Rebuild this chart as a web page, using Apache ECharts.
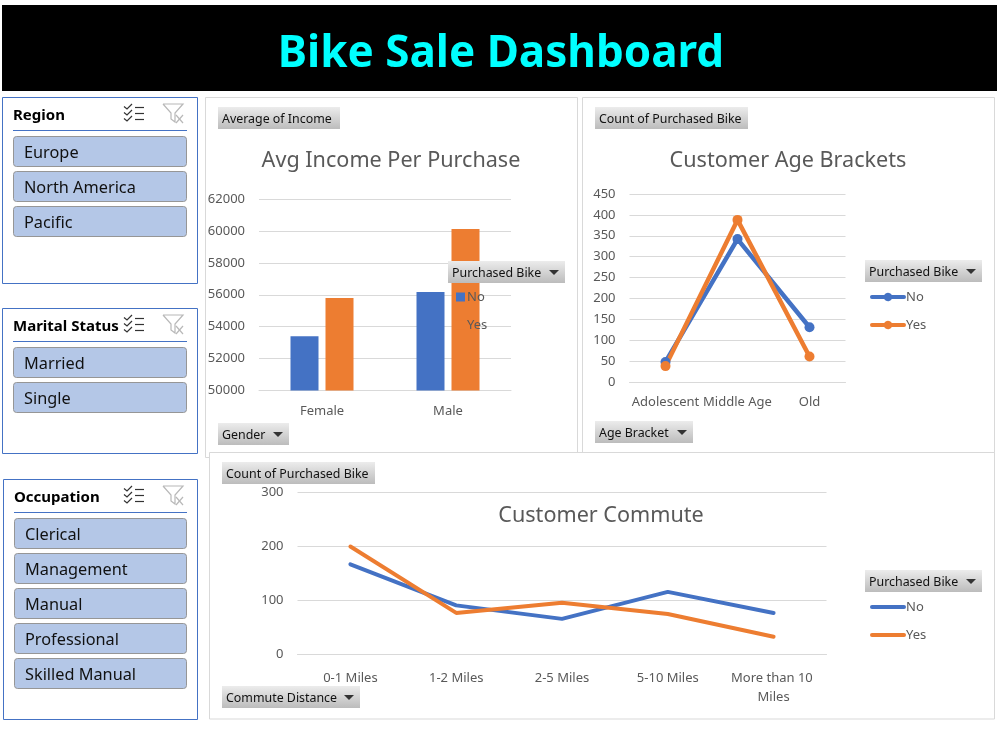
<!DOCTYPE html>
<html><head><meta charset="utf-8">
<style>html,body{margin:0;padding:0;background:#fff}#c{width:1005px;height:731px}</style>
<script src="https://cdn.jsdelivr.net/npm/echarts@6/dist/echarts.min.js"></script>
</head><body><div id="c"></div>
<script>
const genderCategories = ['Female', 'Male'];
const incomeNo = [53400, 56170];
const incomeYes = [55790, 60120];
const ageCategories = ['Adolescent', 'Middle Age', 'Old'];
const ageNo = [48, 342, 131];
const ageYes = [38, 388, 61];
const commuteCategories = ['0-1 Miles', '1-2 Miles', '2-5 Miles', '5-10 Miles', 'More than 10 Miles'];
const commuteNo = [167, 91, 66, 116, 77];
const commuteYes = [200, 77, 96, 75, 33];
const regionItems = ['Europe', 'North America', 'Pacific'];
const maritalItems = ['Married', 'Single'];
const occupationItems = ['Clerical', 'Management', 'Manual', 'Professional', 'Skilled Manual'];

const BLUE = '#4472c4', ORANGE = '#ed7d31', GRID = '#d9d9d9', TXT = '#595959';
const FONT = '"Noto Sans", sans-serif';
const els = [];

function rect(x, y, w, h, fill, stroke, r, z) {
  els.push({type: 'rect', z: z === undefined ? 0 : z, silent: true,
    shape: {x, y, width: w, height: h, r: r || 0},
    style: {fill: fill || 'transparent', stroke: stroke || null, lineWidth: 1}});
}
function txt(x, y, s, size, weight, color, z, family) {
  els.push({type: 'text', z: z || 1, silent: true, x, y,
    style: {text: s, fontSize: size, fontWeight: weight || 'normal', fill: color,
      fontFamily: family || FONT, verticalAlign: 'middle', align: 'left'}});
}
function pline(points, color, w, z) {
  els.push({type: 'polyline', z: z || 1, silent: true, shape: {points},
    style: {stroke: color, lineWidth: w || 1, fill: null}});
}
const btnFill = {type: 'linear', x: 0, y: 0, x2: 0, y2: 1,
  colorStops: [{offset: 0, color: '#ececec'}, {offset: 1, color: '#bcbcbc'}]};
function fieldBtn(x, y, w, label, arrow) {
  rect(x, y, w, 22, btnFill, null, 0, 50);
  els.push({type: 'text', z: 51, silent: true, x: x + 4, y: y + 12.5,
    style: {text: label, fontSize: 12.4, fill: '#111', fontFamily: FONT, verticalAlign: 'middle', align: 'left'}});
  if (arrow) {
    const ax = x + w - 11, ay = y + 9;
    els.push({type: 'polygon', z: 51, silent: true,
      shape: {points: [[ax - 5, ay], [ax + 5, ay], [ax, ay + 5]]}, style: {fill: '#333'}});
  }
}
function slicer(x, y, w, h, title, items, btnTop) {
  rect(x + .5, y + .5, w, h, '#fff', BLUE, 0, 1);
  txt(x + 11, y + 19, title, 15, 'bold', '#000', 2);
  const bx = x + 11, bw = w - 21;
  pline([[bx, btnTop - 5.5], [bx + bw, btnTop - 5.5]], BLUE, 1, 2);
  const ix = 124, iy = y + 8;
  [0, 6, 12].forEach(d => {
    pline([[ix, iy + d + 1.5], [ix + 3, iy + d + 4], [ix + 8, iy + d - 1]], '#333', 1.2, 2);
    pline([[ix + 11, iy + d + 2.5], [ix + 20, iy + d + 2.5]], '#333', 1.2, 2);
  });
  const fx = 163, fy = y + 7;
  pline([[fx, fy], [fx + 20, fy], [fx + 12, fy + 9], [fx + 12, fy + 18], [fx + 8, fy + 15], [fx + 8, fy + 9], [fx, fy]], '#b8b8b8', 1.2, 2);
  pline([[fx + 13, fy + 11], [fx + 20, fy + 19]], '#b8b8b8', 1.2, 2);
  pline([[fx + 20, fy + 11], [fx + 13, fy + 19]], '#b8b8b8', 1.2, 2);
  items.forEach((it, i) => {
    const by = btnTop + i * 35;
    rect(bx + .5, by + .5, bw - 1, 30, '#b4c7e7', '#969696', 3, 2);
    txt(bx + 11, by + 17, it, 16.3, 'normal', '#111', 3);
  });
}

rect(2, 5, 995, 86, '#000', null, 0, -3);
rect(205.5, 97.5, 372, 360, '#fff', GRID, 0, -3);
rect(582.5, 97.5, 412, 355.5, '#fff', GRID, 0, -3);
rect(209.5, 452.5, 785, 266.5, '#fff', GRID, 0, -2);
slicer(2, 97, 195, 186, 'Region', regionItems, 136);
slicer(2, 308, 195, 145, 'Marital Status', maritalItems, 347);
slicer(3, 479, 194, 240, 'Occupation', occupationItems, 518);
fieldBtn(218, 107, 122, 'Average of Income');
fieldBtn(218, 423, 71, 'Gender', true);
fieldBtn(448, 261, 117, 'Purchased Bike', true);
fieldBtn(595, 107, 153, 'Count of Purchased Bike');
fieldBtn(595, 421, 98, 'Age Bracket', true);
fieldBtn(865, 260, 117, 'Purchased Bike', true);
fieldBtn(222, 462, 153, 'Count of Purchased Bike');
fieldBtn(222, 686, 138, 'Commute Distance', true);
fieldBtn(865, 570, 117, 'Purchased Bike', true);

function chartTitle(s, cx, y) {
  return {text: s, left: cx, top: y, textAlign: 'center', padding: 0,
    textStyle: {fontSize: 21.6, fontWeight: 'normal', color: TXT, fontFamily: FONT}};
}
function xAxisOf(i, cats, extra) {
  return {gridIndex: i, type: 'category', data: cats,
    axisTick: {show: false}, axisLine: {lineStyle: {color: GRID}},
    axisLabel: Object.assign({color: TXT, fontSize: 13, fontFamily: FONT, margin: 14, interval: 0}, extra || {})};
}
function yAxisOf(i, min, max, interval) {
  return {gridIndex: i, type: 'value', min, max, interval,
    axisLine: {show: false}, axisTick: {show: false},
    splitLine: {lineStyle: {color: GRID, width: 1}},
    axisLabel: {color: TXT, fontSize: 13, fontFamily: FONT, margin: 14, formatter: v => String(v)}};
}
function lineSeries(name, data, color, idx, marked) {
  return {type: 'line', name, data, xAxisIndex: idx, yAxisIndex: idx,
    lineStyle: {color, width: marked ? 4.5 : 4, cap: 'round'}, itemStyle: {color},
    symbol: marked ? 'circle' : 'none', symbolSize: 10, showSymbol: marked, smooth: false, animation: false};
}
function legendOf(left, top, icons) {
  return {left, top, orient: 'vertical', padding: 0, itemGap: 15, selectedMode: false,
    itemWidth: icons.w, itemHeight: 9,
    textStyle: {color: TXT, fontSize: 13, fontFamily: FONT, padding: [0, 0, 0, icons.pad]},
    data: [
      {name: 'No', icon: icons.p, itemStyle: {color: BLUE}},
      {name: 'Yes', icon: icons.p, itemStyle: {color: ORANGE}}
    ]};
}
const ICON_RECT = 'rect';
const ICON_LINE_DOT = 'path://M1 2.5H14A4.5 4.5 0 0 1 22 2.5H35A2 2 0 0 1 35 6.5H22A4.5 4.5 0 0 1 14 6.5H1A2 2 0 0 1 1 2.5Z';
const ICON_LINE = 'path://M2 0H34A2 2 0 0 1 34 4H2A2 2 0 0 1 2 0Z';

const option = {
  animation: false,
  backgroundColor: '#fff',
  title: [
    {text: 'Bike Sale Dashboard', left: 501, top: 32, textAlign: 'center', padding: 0,
      textStyle: {fontSize: 44, fontWeight: 'bold', color: '#00ffff', fontFamily: FONT}},
    chartTitle('Avg Income Per Purchase', 391, 150),
    chartTitle('Customer Age Brackets', 788, 150),
    chartTitle('Customer Commute', 601, 505)
  ],
  grid: [
    {left: 259, top: 199, width: 252, height: 191.5},
    {left: 629.5, top: 194, width: 216, height: 188},
    {left: 297.5, top: 492.5, width: 529, height: 162}
  ],
  xAxis: [
    xAxisOf(0, genderCategories),
    xAxisOf(1, ageCategories),
    xAxisOf(2, commuteCategories, {width: 100, overflow: 'break', lineHeight: 19})
  ],
  yAxis: [
    yAxisOf(0, 50000, 62000, 2000),
    yAxisOf(1, 0, 450, 50),
    yAxisOf(2, 0, 300, 100)
  ],
  legend: [
    legendOf(456, 290.5, {p: ICON_RECT, w: 9, pad: -3}),
    legendOf(870, 290.5, {p: ICON_LINE_DOT, w: 36, pad: -5}),
    legendOf(870, 600.5, {p: ICON_LINE, w: 36, pad: -5})
  ],
  series: [
    {type: 'bar', name: 'No', data: incomeNo, xAxisIndex: 0, yAxisIndex: 0, barWidth: 28, barGap: '25%', itemStyle: {color: BLUE}},
    {type: 'bar', name: 'Yes', data: incomeYes, xAxisIndex: 0, yAxisIndex: 0, barWidth: 28, barGap: '25%', itemStyle: {color: ORANGE}},
    lineSeries('No', ageNo, BLUE, 1, true),
    lineSeries('Yes', ageYes, ORANGE, 1, true),
    lineSeries('No', commuteNo, BLUE, 2, false),
    lineSeries('Yes', commuteYes, ORANGE, 2, false)
  ],
  graphic: {elements: els}
};
const chart = echarts.init(document.getElementById('c'), null, {renderer: 'canvas'});
chart.setOption(option);
</script></body></html>
